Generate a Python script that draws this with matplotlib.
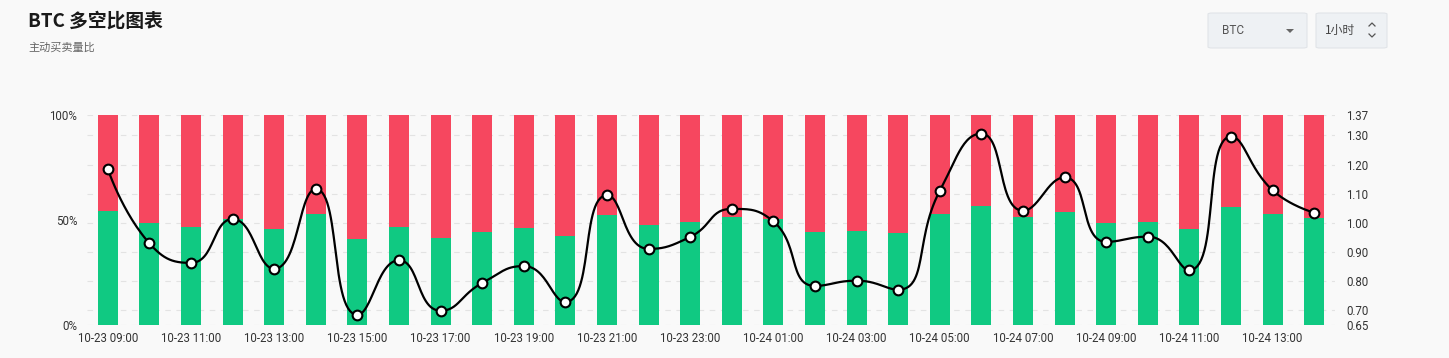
import numpy as np
import matplotlib
matplotlib.use("Agg")
import matplotlib.pyplot as plt
from matplotlib.patches import FancyBboxPatch, Polygon
from matplotlib.lines import Line2D

plt.rcParams['font.family'] = ['Roboto', 'Noto Sans CJK SC', 'DejaVu Sans']

# hourly buckets
times = ["10-23 09:00", "10-23 10:00", "10-23 11:00", "10-23 12:00", "10-23 13:00",
         "10-23 14:00", "10-23 15:00", "10-23 16:00", "10-23 17:00", "10-23 18:00",
         "10-23 19:00", "10-23 20:00", "10-23 21:00", "10-23 22:00", "10-23 23:00",
         "10-24 00:00", "10-24 01:00", "10-24 02:00", "10-24 03:00", "10-24 04:00",
         "10-24 05:00", "10-24 06:00", "10-24 07:00", "10-24 08:00", "10-24 09:00",
         "10-24 10:00", "10-24 11:00", "10-24 12:00", "10-24 13:00", "10-24 14:00"]

# long (buy) share in percent
long_pct = [54.3, 48.4, 46.5, 50.5, 45.9, 52.7, 41.0, 46.7, 41.3, 44.4,
            46.0, 42.2, 52.4, 47.6, 48.9, 51.3, 50.3, 44.1, 44.7, 43.7,
            52.7, 56.7, 51.3, 53.7, 48.4, 48.9, 45.7, 56.3, 52.7, 51.0]

# long/short ratio (right axis)
ratio = [1.185, 0.930, 0.863, 1.013, 0.843, 1.116, 0.685, 0.872, 0.699, 0.794,
         0.852, 0.729, 1.095, 0.911, 0.952, 1.048, 1.005, 0.784, 0.802, 0.771,
         1.110, 1.306, 1.042, 1.156, 0.935, 0.953, 0.838, 1.296, 1.112, 1.035]

left_ticks = [0, 50, 100]
left_labels = ["0%", "50%", "100%"]
right_ticks = [0.65, 0.70, 0.80, 0.90, 1.00, 1.10, 1.20, 1.30, 1.37]
right_labels = ["0.65", "0.70", "0.80", "0.90", "1.00", "1.10", "1.20", "1.30", "1.37"]
r_lo, r_hi = 0.65, 1.37

GREEN = '#10C982'
RED = '#F6475F'
BG = '#F9F9F9'
TXT = '#333333'

W, H = 1449, 358
fig = plt.figure(figsize=(W / 100, H / 100), dpi=100, facecolor=BG)

ax = fig.add_axes([87 / W, 1 - 325 / H, (1335 - 87) / W, (325 - 115) / H])
ax.set_facecolor('none')
x = np.arange(len(times))
short_pct = [100 - v for v in long_pct]

ax.bar(x, long_pct, width=0.48, color=GREEN, zorder=2)
ax.bar(x, short_pct, bottom=long_pct, width=0.48, color=RED, zorder=2)
ax.set_xlim(-0.5, len(times) - 0.5)
ax.set_ylim(0, 100)

# dashed grid lines belong to the right axis
for t in right_ticks:
    ax.axhline((t - r_lo) / (r_hi - r_lo) * 100, color='#E3E3E3', lw=0.8,
               ls=(0, (5, 5)), zorder=0)

ax.set_yticks(left_ticks)
ax.set_yticklabels(left_labels)
ax.set_xticks(x[::2])
ax.set_xticklabels(times[::2])
ax.tick_params(axis='both', length=0, labelsize=8.3, colors=TXT)
ax.tick_params(axis='y', pad=7)
ax.tick_params(axis='x', pad=5)
for s in ax.spines.values():
    s.set_visible(False)

ax2 = ax.twinx()
ax2.set_ylim(r_lo, r_hi)
ax2.set_yticks(right_ticks)
ax2.set_yticklabels(right_labels)
ax2.tick_params(axis='y', length=0, labelsize=8.3, colors=TXT, pad=8)
for s in ax2.spines.values():
    s.set_visible(False)


def smooth_path(px, py, smooth=0.5, n=30):
    # echarts-like bezier smoothing in pixel space
    out_x, out_y = [px[0]], [py[0]]
    cp0x, cp0y = px[0], py[0]
    npts = len(px)
    for i in range(1, npts):
        xx, yy = px[i], py[i]
        prx, pry = px[i - 1], py[i - 1]
        if i == npts - 1:
            cp1x, cp1y = xx, yy
            ncx, ncy = xx, yy
        else:
            nx, ny = px[i + 1], py[i + 1]
            vx, vy = nx - prx, ny - pry
            lp = np.hypot(xx - prx, yy - pry)
            ln = np.hypot(nx - xx, ny - yy)
            r = ln / (ln + lp)
            ncx = xx + vx * smooth * r
            ncy = yy + vy * smooth * r
            ncx = min(ncx, max(nx, xx)); ncx = max(ncx, min(nx, xx))
            ncy = min(ncy, max(ny, yy)); ncy = max(ncy, min(ny, yy))
            vx, vy = ncx - xx, ncy - yy
            cp1x = xx - vx * lp / ln
            cp1y = yy - vy * lp / ln
            cp1x = min(cp1x, max(prx, xx)); cp1x = max(cp1x, min(prx, xx))
            cp1y = min(cp1y, max(pry, yy)); cp1y = max(cp1y, min(pry, yy))
            vx, vy = xx - cp1x, yy - cp1y
            ncx = xx + vx * ln / lp
            ncy = yy + vy * ln / lp
        t = np.linspace(0, 1, n)[1:]
        bx = ((1 - t) ** 3 * prx + 3 * (1 - t) ** 2 * t * cp0x
              + 3 * (1 - t) * t ** 2 * cp1x + t ** 3 * xx)
        by = ((1 - t) ** 3 * pry + 3 * (1 - t) ** 2 * t * cp0y
              + 3 * (1 - t) * t ** 2 * cp1y + t ** 3 * yy)
        out_x.extend(bx); out_y.extend(by)
        cp0x, cp0y = ncx, ncy
    return np.array(out_x), np.array(out_y)


pix = ax2.transData.transform(np.column_stack([x, ratio]))
sx, sy = smooth_path(pix[:, 0], pix[:, 1])
curve = ax2.transData.inverted().transform(np.column_stack([sx, sy]))
ax2.plot(curve[:, 0], curve[:, 1], color='black', lw=1.6, zorder=3,
         solid_capstyle='round', clip_on=False)
ax2.plot(x, ratio, ls='none', marker='o', ms=7, mfc='white', mec='black',
         mew=1.5, zorder=4, clip_on=False)

# header
fig.text(28 / W, 1 - 21 / H, "BTC 多空比图表", fontsize=13.5, fontweight='bold',
         color='#1a1a1a', va='center', ha='left',
         family=['Noto Sans CJK SC', 'DejaVu Sans'])
fig.text(28 / W, 1 - 47 / H, "主动买卖量比", fontsize=8, color='#666666',
         va='center', ha='left', family=['Noto Sans CJK SC', 'DejaVu Sans'])

# dropdown controls
for x0, x1 in [(1208, 1307), (1316, 1387)]:
    box = FancyBboxPatch((x0 / W, 1 - 48 / H), (x1 - x0) / W, 35 / H,
                         boxstyle="round,pad=0,rounding_size=0.003",
                         transform=fig.transFigure, facecolor='#EEF1F4',
                         edgecolor='#E1E4E8', lw=0.8)
    fig.patches.append(box)
fig.text(1222 / W, 1 - 30 / H, "BTC", fontsize=8.5, color='#555555',
         va='center', ha='left')
tri = Polygon([[1286 / W, 1 - 29 / H], [1294 / W, 1 - 29 / H], [1290 / W, 1 - 33 / H]],
              closed=True, transform=fig.transFigure, facecolor='#666666',
              edgecolor='none')
fig.patches.append(tri)
fig.text(1325 / W, 1 - 30 / H, "1小时", fontsize=8.5, color='#444444',
         va='center', ha='left', family=['Noto Sans CJK SC', 'DejaVu Sans'])
for ys in [(26, 23, 26), (34, 37, 34)]:
    fig.lines.append(Line2D([1369 / W, 1372 / W, 1375 / W],
                            [1 - ys[0] / H, 1 - ys[1] / H, 1 - ys[2] / H],
                            transform=fig.transFigure, color='#555555', lw=0.9))

fig.savefig("out.png", dpi=100, facecolor=BG)
